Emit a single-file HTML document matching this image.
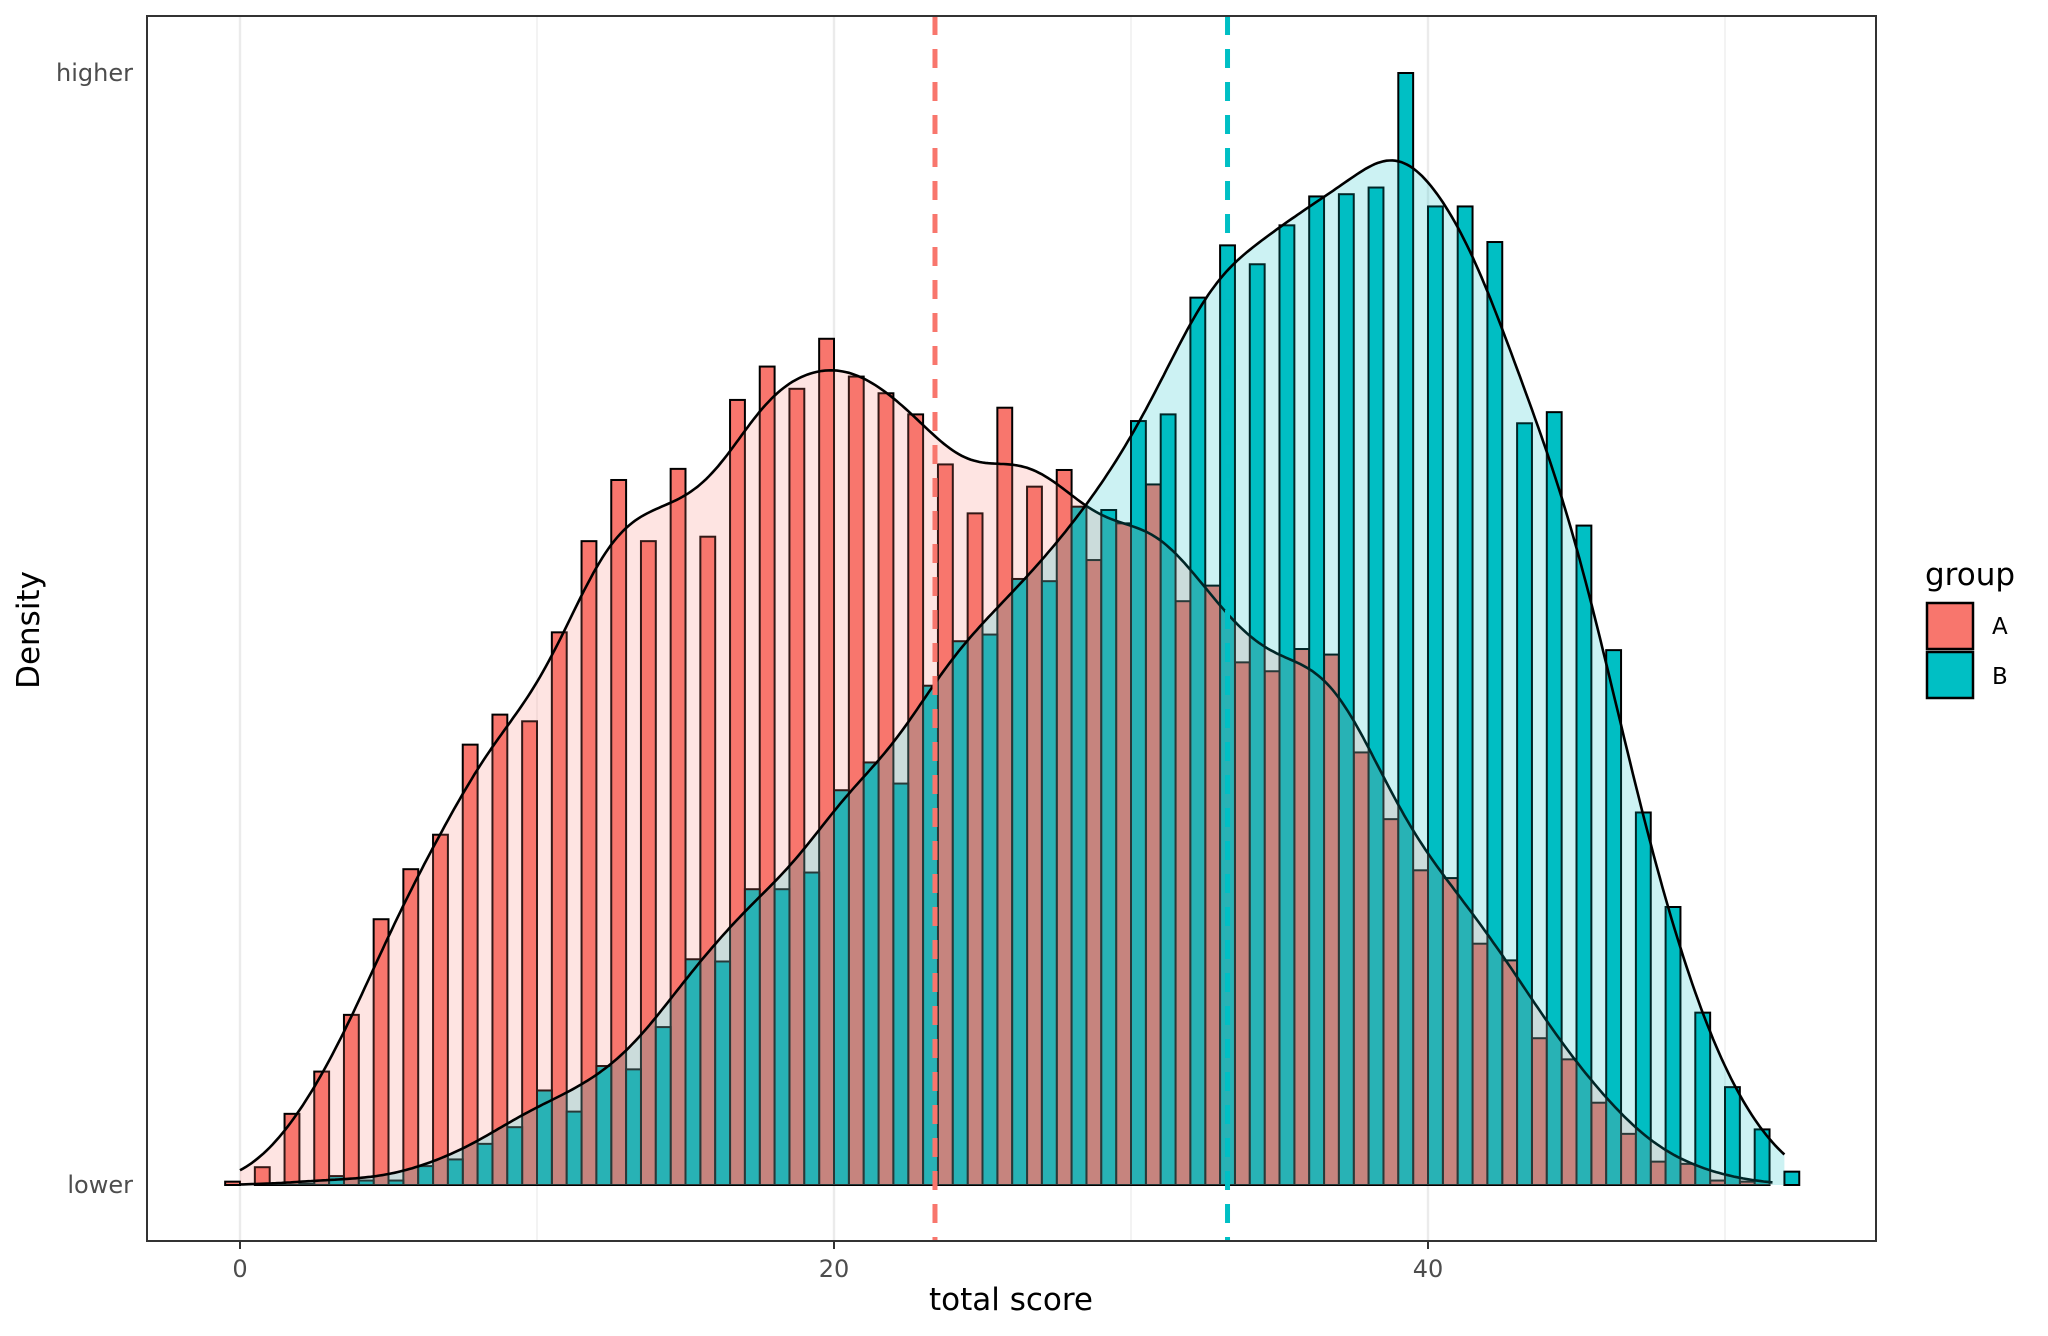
<!DOCTYPE html>
<html><head><meta charset="utf-8">
<style>
html,body{margin:0;padding:0;background:#fff;}
svg text{font-family:"DejaVu Sans","Liberation Sans",sans-serif;}
</style></head>
<body>
<svg id="chart" width="2048" height="1331" viewBox="0 0 2048 1331" xmlns="http://www.w3.org/2000/svg">
<rect x="0" y="0" width="2048" height="1331" fill="#fff"/>
<g id="grid"></g>
<g id="bars"></g>
<g id="dens"></g>
<g id="means"></g>
<rect x="147" y="16" width="1729" height="1225" fill="none" stroke="#333" stroke-width="2"/>
<g id="axes"></g>
<text x="29" y="630" transform="rotate(-90 29 630)" text-anchor="middle" dominant-baseline="central" font-size="31" fill="#000">Density</text>
<text x="1011" y="1310" text-anchor="middle" font-size="31" fill="#000">total score</text>
<g>
<text x="1925" y="585" font-size="31" fill="#000">group</text>
<rect x="1927" y="603" width="46" height="46" fill="#F8766D" stroke="#000" stroke-width="2.5"/>
<rect x="1927" y="652" width="46" height="46" fill="#00BFC4" stroke="#000" stroke-width="2.5"/>
<text x="1992" y="627" font-size="23" dominant-baseline="central" fill="#000">A</text>
<text x="1992" y="677" font-size="23" dominant-baseline="central" fill="#000">B</text>
</g>
</svg>
<script>
const scoresA = [0,1,2,3,4,5,6,7,8,9,10,11,12,13,14,15,16,17,18,19,20,21,22,23,24,25,26,27,28,29,30,31,32,33,34,35,36,37,38,39,40,41,42,43,44,45,46,47,48,49,50,51];
const densA = [0.003,0.016,0.064,0.102,0.153,0.239,0.284,0.315,0.396,0.423,0.417,0.497,0.579,0.634,0.579,0.644,0.583,0.706,0.736,0.716,0.761,0.727,0.712,0.693,0.648,0.604,0.699,0.628,0.643,0.562,0.595,0.630,0.525,0.539,0.470,0.462,0.482,0.477,0.389,0.329,0.283,0.276,0.217,0.202,0.132,0.113,0.074,0.046,0.021,0.019,0.004,0.003];
const scoresB = [0,1,2,3,4,5,6,7,8,9,10,11,12,13,14,15,16,17,18,19,20,21,22,23,24,25,26,27,28,29,30,31,32,33,34,35,36,37,38,39,40,41,42,43,44,45,46,47,48,49,50,51,52];
const densB = [0,0.001,0.001,0.008,0.004,0.004,0.017,0.023,0.037,0.052,0.085,0.066,0.107,0.104,0.142,0.203,0.201,0.266,0.266,0.281,0.355,0.380,0.361,0.449,0.489,0.495,0.545,0.543,0.610,0.607,0.687,0.693,0.798,0.845,0.828,0.863,0.889,0.891,0.897,1.000,0.880,0.880,0.848,0.685,0.695,0.593,0.481,0.335,0.250,0.155,0.088,0.050,0.012];
const meanA = [23.4];
const meanB = [33.25];
const xTicks = [0,20,40];
const xMinor = [10,30,50];
const yTickVals = [0,1];
const yTickLabels = ["lower","higher"];
const rangeA = [0,51.6];
const rangeB = [0,52];

const NS="http://www.w3.org/2000/svg";
const X0=240, XU=29.7, Y0=1185, YU=1112, PT=16, PB=1241, PL=147;
const xs=v=>X0+v*XU;
const ys=v=>Y0-v*YU;
function mk(tag,attrs,parent){const e=document.createElementNS(NS,tag);for(const k in attrs)e.setAttribute(k,attrs[k]);parent.appendChild(e);return e;}
const grid=document.getElementById('grid'),bars=document.getElementById('bars'),dens=document.getElementById('dens'),means=document.getElementById('means'),axes=document.getElementById('axes');

xMinor.forEach(v=>{const l=mk('line',{x1:xs(v),x2:xs(v),y1:PT,y2:PB,stroke:'#ebebeb','stroke-width':1.2},grid);

});
xTicks.forEach((v,i)=>{const l=mk('line',{x1:xs(v),x2:xs(v),y1:PT,y2:PB,stroke:'#ebebeb','stroke-width':2.4},grid);


const t=mk('line',{x1:xs(v),x2:xs(v),y1:PB,y2:PB+8,stroke:'#333','stroke-width':2},axes);


const tx=mk('text',{x:xs(v),y:PB+36,'text-anchor':'middle','font-size':24,fill:'#4d4d4d'},axes);
tx.textContent=v;

});
yTickVals.forEach((v,i)=>{
const tx=mk('text',{x:PL-14,y:ys(v),'text-anchor':'end','dominant-baseline':'central','font-size':24,fill:'#4d4d4d'},axes);
tx.textContent=yTickLabels[i];

});

function drawBars(sc,d,off,col,name){
  sc.forEach((s,i)=>{const x=xs(s+off),y=ys(d[i]);
    const r=mk('rect',{x:x,y:y,width:XU*0.5,height:Math.max(0,Y0-y),fill:col,stroke:'#000','stroke-width':2},bars);
    
    });
}
drawBars(scoresA,densA,-0.5,'#F8766D','bar-group-a');
drawBars(scoresB,densB,0,'#00BFC4','bar-group-b');

function kde(sc,d,range,bw){
  const pts=[];
  for(let x=range[0];x<=range[1]+1e-9;x+=0.1){
    let s=0;sc.forEach((c,i)=>{s+=d[i]*Math.exp(-0.5*((x-c)/bw)**2)/(bw*Math.sqrt(2*Math.PI));});
    pts.push([x,s]);
  }
  return pts;
}
function drawDens(sc,d,range,col,name){
  const pts=kde(sc,d,range,1.3);
  let p='M'+xs(pts[0][0])+','+Y0;
  pts.forEach(q=>p+=' L'+xs(q[0]).toFixed(1)+','+ys(q[1]).toFixed(1));
  p+=' L'+xs(pts[pts.length-1][0])+','+Y0+' Z';
  const f=mk('path',{d:p,fill:col,'fill-opacity':0.2,stroke:'none'},dens);
  
  
  let l='M'+pts.map(q=>xs(q[0]).toFixed(1)+','+ys(q[1]).toFixed(1)).join(' L');
  const ln=mk('path',{d:l,fill:'none',stroke:'#000','stroke-width':2.6},dens);
  
  
}
drawDens(scoresA,densA,rangeA,'#F8766D','density-a');
drawDens(scoresB,densB,rangeB,'#00BFC4','density-b');

const mA=mk('line',{x1:xs(meanA[0]),x2:xs(meanA[0]),y1:PT,y2:PB,stroke:'#F8766D','stroke-width':5,'stroke-dasharray':'19 14'},means);


const mB=mk('line',{x1:xs(meanB[0]),x2:xs(meanB[0]),y1:PT,y2:PB,stroke:'#00BFC4','stroke-width':5,'stroke-dasharray':'19 14'},means);


</script>
</body></html>
